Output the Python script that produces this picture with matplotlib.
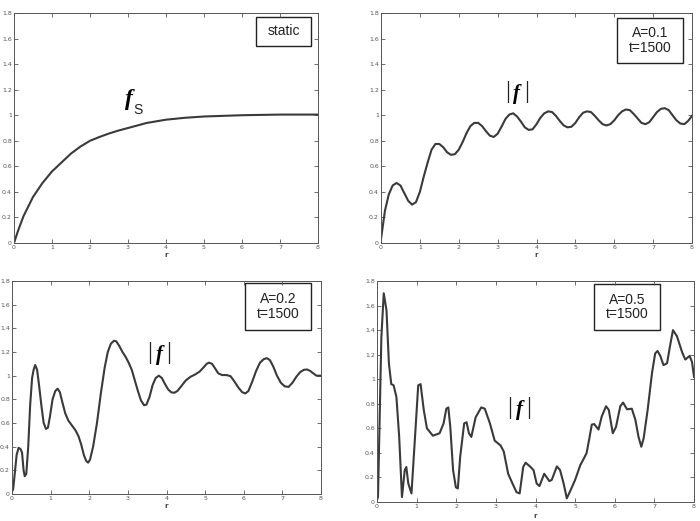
import matplotlib
matplotlib.use("Agg")
import matplotlib.pyplot as plt
from matplotlib.patches import Rectangle

# static profile
r_static = [0, 0.1, 0.25, 0.5, 0.75, 1.0, 1.25, 1.5, 1.75, 2.0, 2.25, 2.5, 2.75,
            3.0, 3.5, 4.0, 4.5, 5.0, 5.5, 6.0, 7.0, 8.0]
f_static = [0, 0.09, 0.21, 0.36, 0.47, 0.56, 0.63, 0.70, 0.755, 0.80, 0.83, 0.857, 0.88,
            0.90, 0.94, 0.965, 0.98, 0.99, 0.995, 1.0, 1.005, 1.005]

# A=0.1
r_a1 = [i / 10 for i in range(81)]
f_a1 = [0.03, 0.25, 0.38, 0.45, 0.47, 0.45, 0.39, 0.33, 0.30, 0.32,
        0.40, 0.52, 0.63, 0.73, 0.775, 0.775, 0.75, 0.71, 0.69, 0.695,
        0.73, 0.79, 0.86, 0.915, 0.94, 0.94, 0.915, 0.875, 0.84, 0.83,
        0.855, 0.91, 0.97, 1.005, 1.015, 0.99, 0.95, 0.905, 0.885, 0.89,
        0.93, 0.98, 1.015, 1.03, 1.025, 0.995, 0.955, 0.92, 0.905, 0.91,
        0.94, 0.985, 1.02, 1.03, 1.025, 0.995, 0.96, 0.93, 0.92, 0.93,
        0.96, 1.0, 1.03, 1.045, 1.04, 1.01, 0.975, 0.94, 0.93, 0.945,
        0.985, 1.025, 1.05, 1.055, 1.04, 1.0, 0.96, 0.935, 0.93, 0.955,
        0.995]

# A=0.2
r_a2 = [0.0, 0.03, 0.08, 0.12, 0.17, 0.22, 0.26, 0.3, 0.33, 0.37, 0.42, 0.47, 0.52,
        0.56, 0.6, 0.65, 0.7, 0.76, 0.82, 0.88, 0.93, 0.98, 1.05, 1.12, 1.18, 1.24,
        1.3, 1.38, 1.46, 1.55, 1.64, 1.72, 1.79, 1.86, 1.92, 1.97, 2.02, 2.1, 2.2,
        2.3, 2.4, 2.48, 2.56, 2.64, 2.7, 2.78, 2.86, 2.94, 3.02, 3.1, 3.18, 3.26,
        3.34, 3.42, 3.48, 3.56, 3.64, 3.72, 3.8, 3.88, 3.96, 4.04, 4.12, 4.2, 4.28,
        4.38, 4.5, 4.62, 4.74, 4.86, 4.96, 5.04, 5.1, 5.18, 5.26, 5.34, 5.44, 5.56,
        5.66, 5.76, 5.86, 5.96, 6.04, 6.12, 6.22, 6.32, 6.42, 6.52, 6.6, 6.68, 6.76,
        6.86, 6.96, 7.06, 7.16, 7.26, 7.36, 7.46, 7.56, 7.64, 7.72, 7.8, 7.88, 8.0]
f_a2 = [0.02, 0.04, 0.2, 0.33, 0.39, 0.38, 0.35, 0.2, 0.15, 0.17, 0.4, 0.75, 0.98,
        1.05, 1.09, 1.05, 0.92, 0.75, 0.6, 0.55, 0.56, 0.65, 0.8, 0.87, 0.89, 0.86,
        0.78, 0.68, 0.62, 0.58, 0.54, 0.49, 0.42, 0.33, 0.28, 0.265, 0.29, 0.4, 0.6,
        0.85, 1.07, 1.2, 1.27, 1.295, 1.29, 1.25, 1.2, 1.16, 1.11, 1.05, 0.96, 0.87,
        0.79, 0.75, 0.755, 0.82, 0.92, 0.98, 1.0, 0.98, 0.93, 0.885, 0.86, 0.855, 0.87,
        0.91, 0.96, 0.99, 1.01, 1.035, 1.07, 1.1, 1.11, 1.1, 1.06, 1.02, 1.005, 1.005,
        0.995, 0.95, 0.9, 0.86, 0.85, 0.87, 0.95, 1.04, 1.11, 1.14, 1.148, 1.13, 1.08,
        1.0, 0.94, 0.91, 0.905, 0.94, 0.99, 1.03, 1.05, 1.052, 1.04, 1.02, 1.0, 1.0]

# A=0.5
r_a5 = [0.0, 0.025, 0.11, 0.17, 0.24, 0.30, 0.36, 0.42, 0.49, 0.56, 0.63, 0.70, 0.74,
        0.79, 0.87, 0.95, 1.04, 1.10, 1.18, 1.26, 1.41, 1.58, 1.68, 1.75, 1.80, 1.85,
        1.92, 1.99, 2.04, 2.10, 2.20, 2.26, 2.32, 2.38, 2.49, 2.63, 2.72, 2.85, 2.97,
        3.12, 3.20, 3.31, 3.42, 3.52, 3.60, 3.69, 3.75, 3.86, 3.95, 4.03, 4.10, 4.22,
        4.35, 4.41, 4.54, 4.62, 4.71, 4.79, 4.87, 5.0, 5.13, 5.23, 5.29, 5.36, 5.42,
        5.48, 5.59, 5.67, 5.78, 5.85, 5.95, 6.03, 6.14, 6.21, 6.31, 6.43, 6.52, 6.6,
        6.67, 6.73, 6.83, 6.94, 7.02, 7.08, 7.15, 7.23, 7.32, 7.40, 7.47, 7.57, 7.70,
        7.78, 7.89, 7.95, 8.0]
f_a5 = [0.02, 0.04, 1.34, 1.70, 1.56, 1.13, 0.96, 0.95, 0.855, 0.53, 0.04, 0.26, 0.285,
        0.15, 0.07, 0.48, 0.95, 0.96, 0.75, 0.6, 0.54, 0.56, 0.64, 0.76, 0.77, 0.61,
        0.26, 0.12, 0.11, 0.37, 0.64, 0.65, 0.56, 0.53, 0.69, 0.77, 0.76, 0.64, 0.50,
        0.46, 0.41, 0.23, 0.15, 0.08, 0.07, 0.285, 0.32, 0.29, 0.26, 0.15, 0.13, 0.23,
        0.17, 0.18, 0.29, 0.26, 0.15, 0.03, 0.085, 0.18, 0.30, 0.36, 0.40, 0.52, 0.63,
        0.635, 0.59, 0.695, 0.78, 0.75, 0.56, 0.61, 0.78, 0.81, 0.755, 0.76, 0.67, 0.53,
        0.45, 0.52, 0.75, 1.05, 1.21, 1.23, 1.19, 1.115, 1.13, 1.28, 1.40, 1.35, 1.22,
        1.16, 1.19, 1.14, 1.02]

box_texts = ["static", "A=0.1\nt=1500", "A=0.2\nt=1500", "A=0.5\nt=1500"]
yticks = [0, 0.2, 0.4, 0.6, 0.8, 1, 1.2, 1.4, 1.6, 1.8]
ytick_labels = ["0", "0.2", "0.4", "0.6", "0.8", "1", "1.2", "1.4", "1.6", "1.8"]
xticks = [0, 1, 2, 3, 4, 5, 6, 7, 8]

fig = plt.figure(figsize=(7, 5.21), dpi=100)

positions = [
    [14 / 700, 278 / 521, 304 / 700, 230 / 521],
    [381 / 700, 278 / 521, 311 / 700, 230 / 521],
    [12 / 700, 27 / 521, 309 / 700, 213 / 521],
    [377 / 700, 19 / 521, 317 / 700, 221 / 521],
]
boxes = [
    (0.796, 0.857, 0.181, 0.126),
    (0.759, 0.783, 0.212, 0.195),
    (0.754, 0.770, 0.214, 0.220),
    (0.685, 0.778, 0.208, 0.208),
]
series = [(r_static, f_static), (r_a1, f_a1), (r_a2, f_a2), (r_a5, f_a5)]
label_pos = [None, (3.49, 1.18), (3.81, 1.19), (3.59, 0.765)]
xlabel_pad = [1.5, 1.5, 1.5, 2.5]

for i in range(4):
    ax = fig.add_axes(positions[i])
    r, f = series[i]
    ax.plot(r, f, color="#3a3a3a", lw=1.5)
    ax.set_xlim(0, 8)
    ax.set_ylim(0, 1.8)
    ax.set_xticks(xticks)
    ax.set_xticklabels([str(t) for t in xticks])
    ax.set_yticks(yticks)
    ax.set_yticklabels(ytick_labels)
    ax.tick_params(direction="in", length=3, width=0.6, top=True, right=True,
                   labelsize=4.5, labelcolor="#555555", color="#555555", pad=1.5)
    for s in ax.spines.values():
        s.set_linewidth(0.7)
        s.set_color("#555555")
    ax.set_xlabel("r", fontsize=5, fontweight="bold", color="#444444", labelpad=xlabel_pad[i])

    bx, by, bw, bh = boxes[i]
    ax.add_patch(Rectangle((bx, by), bw, bh, transform=ax.transAxes, fill=False,
                           edgecolor="#222222", lw=1.0))
    ax.text(bx + bw / 2, by + bh / 2, box_texts[i], transform=ax.transAxes,
            ha="center", va="center", fontsize=10, family="Liberation Sans",
            color="#222222", linespacing=1.05)

    if i == 0:
        ax.text(3.03, 1.12, "f", ha="center", va="center", fontsize=17,
                family="Liberation Serif", fontweight="bold", style="italic")
        ax.text(3.25, 1.04, "S", ha="center", va="center", fontsize=10,
                family="Liberation Sans", color="#222222")
    else:
        x, y = label_pos[i]
        ax.text(x - 0.245, y, "|", ha="center", va="center", fontsize=18,
                family="Liberation Serif", color="#222222")
        ax.text(x + 0.245, y, "|", ha="center", va="center", fontsize=18,
                family="Liberation Serif", color="#222222")
        ax.text(x, y - 0.015, "f", ha="center", va="center", fontsize=15,
                family="Liberation Serif", fontweight="bold", style="italic")

fig.savefig("out.png", dpi=100)
